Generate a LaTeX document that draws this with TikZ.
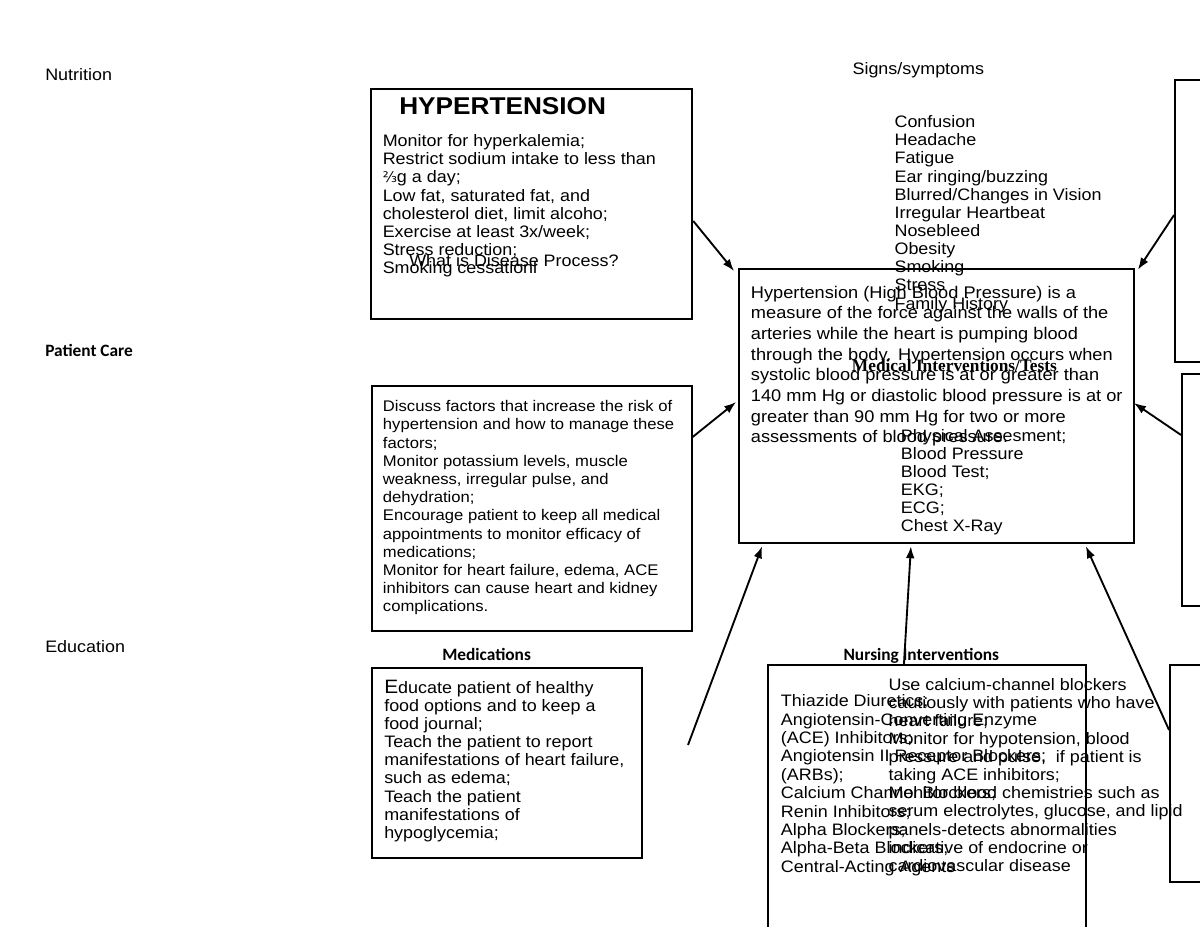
\documentclass[tikz,border=0pt]{standalone}
\usepackage{fontspec}
\setmainfont{Liberation Sans}[FakeStretch=1.08]
\newfontfamily\calfont{Carlito}
\newfontfamily\serfont{Liberation Serif}
\newfontfamily\djfont{DejaVu Sans}
\usetikzlibrary{fit,arrows.meta}
\newcommand\tlines[1]{\begin{tabular}[t]{@{}l@{}}#1\end{tabular}}
\begin{document}
\begin{tikzpicture}[x=0.75pt,y=-0.75pt,
  box/.style={draw, line width=1.4pt, inner sep=0pt, rectangle},
  txt/.style={anchor=base west, inner sep=0pt, font=\fontsize{12.45}{13.6}\selectfont},
  lbl/.style={anchor=base west, inner sep=0pt, font=\calfont\bfseries\fontsize{13}{15}\selectfont},
  arr/.style={line width=1.4pt, -{Latex[length=9pt,width=6.5pt]}}]
\fill[white] (0,0) rectangle (1200,927);
\useasboundingbox (0,0) rectangle (1200,927);
% boxes
\node[box, fit={(371,89.3) (692.3,319.3)}] (nut) {};
\node[box, fit={(371.7,386) (691.7,630.7)}] (pc) {};
\node[box, fit={(371.7,668.3) (641.7,858.3)}] (edu) {};
\node[box, fit={(739.3,269.3) (1134.3,543.3)}] (ctr) {};
\node[box, fit={(768.3,665) (1086,940)}] (nurs) {};
\node[box, fit={(1175,80) (1215,362)}] (rt) {};
\node[box, fit={(1182,374) (1215,606)}] (rm) {};
\node[box, fit={(1170,665) (1215,882)}] (rb) {};
% left labels
\node[txt] (nutlbl) at (45,81) {Nutrition};
\node[lbl] (pclbl) at (45,357) {Patient Care};
\node[txt] (edulbl) at (45,652) {Education};
% nutrition box
\node[anchor=base west, inner sep=0pt, font=\bfseries\fontsize{18.2}{20}\selectfont] (title) at (399,114.3) {HYPERTENSION};
\node[txt] (nuttxt) at (382.5,146.7) {\tlines{Monitor for hyperkalemia;\\Restrict sodium intake to less than\\{\djfont\fontsize{11}{13.6}\selectfont ⅔}g a day;\\Low fat, saturated fat, and\\cholesterol diet, limit alcoho;\\Exercise at least 3x/week;\\Stress reduction;\\Smoking cessationl}};
\node[txt] (wdp) at (409,267) {What is Disease Process?};
% signs / symptoms
\node[txt] (sslbl) at (852.3,75) {Signs/symptoms};
\node[txt] (sslist) at (894.3,127.7) {\tlines{Confusion\\Headache\\Fatigue\\Ear ringing/buzzing\\Blurred/Changes in Vision\\Irregular Heartbeat\\Nosebleed\\Obesity\\Smoking\\Stress\\Family History}};
% center
\node[txt, font=\fontsize{12.65}{15.5}\selectfont] (ctrtxt) at (750.7,298.3) {\tlines{Hypertension (High Blood Pressure) is a\\measure of the force against the walls of the\\arteries while the heart is pumping blood\\through the body. Hypertension occurs when\\systolic blood pressure is at or greater than\\140 mm Hg or diastolic blood pressure is at or\\greater than 90 mm Hg for two or more\\assessments of blood pressure.}};
\node[anchor=base west, inner sep=0pt, font=\serfont\bfseries\fontsize{13}{15}\selectfont] (mit) at (851.7,371.7) {Medical Interventions/Tests};
\node[txt] (mitlist) at (900.7,441.2) {\tlines{Physical Assesment;\\Blood Pressure\\Blood Test;\\EKG;\\ECG;\\Chest X-Ray}};
% patient care
\node[txt, font=\fontsize{11.55}{13.65}\selectfont] (pctxt) at (382.7,411.7) {\tlines{Discuss factors that increase the risk of\\hypertension and how to manage these\\factors;\\Monitor potassium levels, muscle\\weakness, irregular pulse, and\\dehydration;\\Encourage patient to keep all medical\\appointments to monitor efficacy of\\medications;\\Monitor for heart failure, edema, ACE\\inhibitors can cause heart and kidney\\complications.}};
% education
\node[lbl] (medlbl) at (442,660) {Medications};
\node[txt] (edutxt) at (384,693.3) {\tlines{{\fontsize{14.5}{13.6}\selectfont E}ducate patient of healthy\\food options and to keep a\\food journal;\\Teach the patient to report\\manifestations of heart failure,\\such as edema;\\Teach the patient\\manifestations of\\hypoglycemia;}};
% nursing
\node[lbl] (nurslbl) at (843.3,660) {Nursing Interventions};
\node[txt, font=\fontsize{12.45}{13.8}\selectfont] (medslist) at (780.7,706.7) {\tlines{Thiazide Diuretics;\\Angiotensin-Converting Enzyme\\(ACE) Inhibitors;\\Angiotensin II Receptor Blockers;\\(ARBs);\\Calcium Channel Blockers;\\Renin Inhibitors;\\Alpha Blockers;\\Alpha-Beta Blockers;\\Central-Acting Agents}};
\node[txt] (nurstxt) at (888.3,690) {\tlines{Use calcium-channel blockers\\cautiously with patients who have\\heart failure;\\Monitor for hypotension, blood\\pressure and pulse,~ if patient is\\taking ACE inhibitors;\\Monitor blood chemistries such as\\serum electrolytes, glucose, and lipid\\panels-detects abnormalities\\indicative of endocrine or\\cardiovascular disease}};
% arrows
\coordinate (f1) at (688,745);
\draw[arr] ([yshift=-12.5pt]nut.east) -- ([xshift=-3.2pt,yshift=-2pt]ctr.north west);
\draw[arr] ([yshift=53.5pt]pc.east) -- ([xshift=-1.7pt,yshift=3.2pt]ctr.west);
\draw[arr] (f1) -- ([xshift=17.8pt,yshift=-1.5pt]ctr.south west);
\draw[arr] ([xshift=-17.4pt]nurs.north) -- ([xshift=-19.4pt,yshift=-1.5pt]ctr.south);
\draw[arr] ([yshift=32.6pt]rb.west) -- ([xshift=-37pt,yshift=-1.5pt]ctr.south east);
\draw[arr] ([yshift=4.5pt]rt.west) -- ([xshift=2pt,yshift=-1pt]ctr.north east);
\draw[arr] ([yshift=41.25pt]rm.west) -- ([xshift=-1pt,yshift=2.5pt]ctr.east);
\end{tikzpicture}
\end{document}
